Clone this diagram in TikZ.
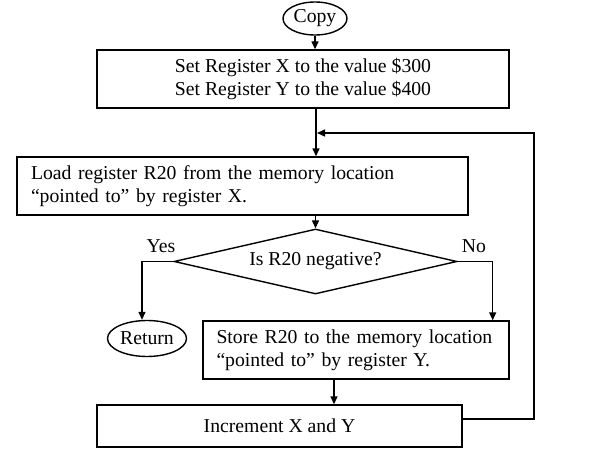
\documentclass[tikz,border=0pt]{standalone}
\usepackage{fontspec}
\setmainfont{Liberation Serif}
\usetikzlibrary{shapes.geometric,arrows.meta}
\begin{document}
\begin{tikzpicture}[x=1pt,y=-1pt,
  every node/.style={font=\fontsize{19.7}{22.7}\selectfont, text=black},
  procbox/.style={draw, line width=1.4pt, rectangle, inner sep=0pt},
  term/.style={draw, line width=1.4pt, ellipse, inner sep=0pt},
  decide/.style={draw, line width=1.4pt, diamond, inner sep=0pt},
  arr/.style={line width=1.4pt, -{Triangle[length=8pt,width=7pt]}},
  lbl/.style={inner sep=0pt}]
\useasboundingbox (0,0) rectangle (595,452);
\node[term, minimum width=64pt, minimum height=33pt] (copy) at (315,18.5) {Copy};
\node[procbox, minimum width=412pt, minimum height=58pt, align=center] (box1) at (303,79)
  {Set Register X to the value \$300\\Set Register Y to the value \$400};
\node[procbox, minimum width=451pt, minimum height=58pt, text width=423pt, inner xsep=14pt, align=left] (box2) at (242.5,186)
  {Load register R20 from the memory location\\``pointed to'' by register X.};
\node[decide, minimum width=283pt, minimum height=65pt, aspect=4.35] (dia) at (315.5,261.5) {Is R20 negative?};
\node[lbl] (yes) at (161,246) {Yes};
\node[lbl] (no) at (474,246) {No};
\node[term, minimum width=79pt, minimum height=36pt] (ret) at (147,338.5) {Return};
\node[procbox, minimum width=306pt, minimum height=58pt, text width=279pt, inner xsep=13.5pt, align=left] (box3) at (356,350)
  {Store R20 to the memory location\\``pointed to'' by register Y.};
\node[procbox, minimum width=365pt, minimum height=42pt] (box4) at (279.5,426) {Increment X and Y};
\coordinate (fb) at (534,133);
\draw[arr] (copy.south) -- (copy.south |- box1.north);
\draw[arr] ([xshift=1pt]copy.south |- box1.south) -- ([xshift=1pt]copy.south |- box2.north);
\draw[arr] (dia.north |- box2.south) -- (dia.north);
\draw[arr] (dia.west) -| ([xshift=-5pt]ret.north);
\draw[arr] (dia.east) -| ([xshift=-17pt]box3.north east);
\draw[arr] ([xshift=-22pt]box3.south) -- ([xshift=-22pt]box3.south |- box4.north);
\draw[arr] ([yshift=7pt]box4.east) -| (fb) -- ([xshift=2pt]copy.south |- fb);
\end{tikzpicture}
\end{document}
